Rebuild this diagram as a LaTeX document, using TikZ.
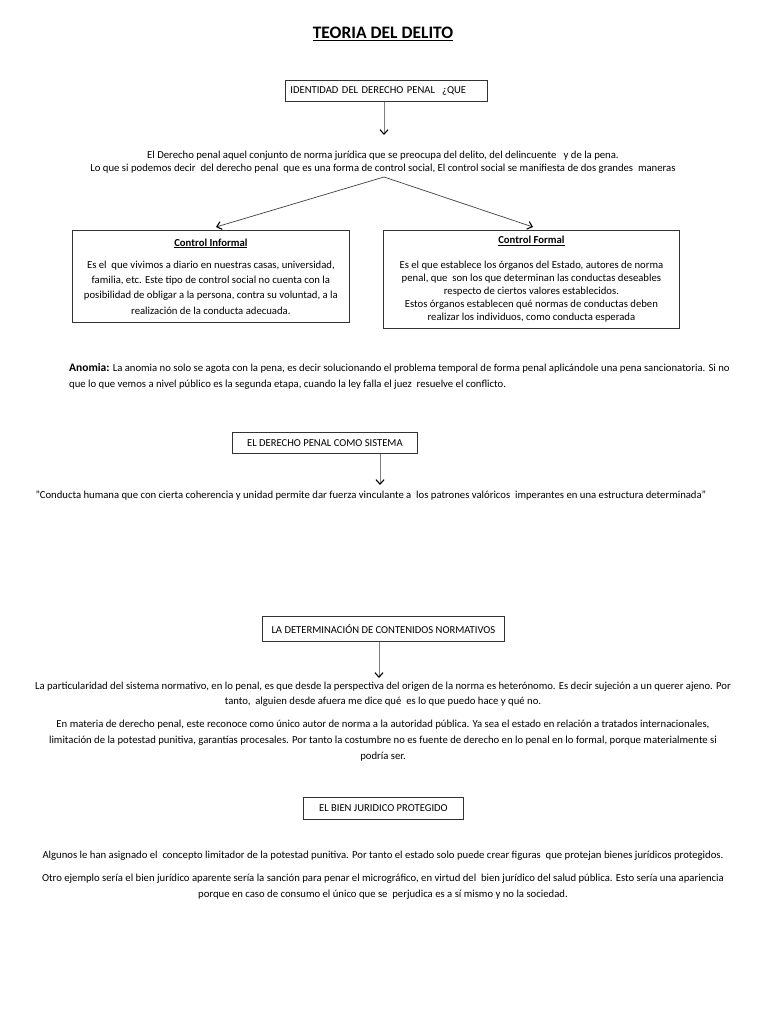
\documentclass[tikz,border=0pt]{standalone}
\usepackage{fontspec}
\setmainfont{Carlito}
\usetikzlibrary{arrows.meta}
\begin{document}
\begin{tikzpicture}[x=1pt,y=-1pt,
  box/.style={draw=black!80, line width=0.8pt, inner ysep=0pt},
  txt/.style={inner sep=0pt, align=center, font=\fontsize{10.7}{13}\selectfont},
  caps/.style={font=\fontsize{10.6}{12}\selectfont},
  arr/.style={draw=black!50, line width=0.8pt, -{Straight Barb[length=4.5pt,width=8pt,line width=1.1pt,color=black]}},
  thin/.style={draw=black!75, line width=0.7pt, -{Straight Barb[length=4.5pt,width=8pt,line width=1.1pt,color=black]}}]
\useasboundingbox (0,0) rectangle (768,1024);
\fill[white] (0,0) rectangle (768,1024);

\node[inner sep=0pt, font=\fontsize{17.5}{20}\selectfont\bfseries] (title) at (383,34) {\underline{TEORIA DEL DELITO}};

\node[box, anchor=north west, text width=192pt, inner xsep=5pt, minimum height=21pt, align=left, caps] (b1) at (285,80) {IDENTIDAD DEL DERECHO PENAL \ ¿QUE};

\node[txt] (p1) at (383,162) {El Derecho penal aquel conjunto de norma jurídica que se preocupa del delito, del delincuente \ \ y de la pena.\\
Lo que si podemos decir \ del derecho penal \ que es una forma de control social, El control social se manifiesta de dos grandes \ maneras};

\coordinate (a1) at (384,135);
\draw[arr] (b1.south -| a1) -- (a1);

\node[box, anchor=north west, minimum width=277pt, minimum height=92pt, inner xsep=0pt, align=center, font=\fontsize{10.7}{15.3}\selectfont] (ci) at (72,230) {\textbf{\underline{Control Informal}}\\[7pt]
Es el \ que vivimos a diario en nuestras casas, universidad,\\
familia, etc. Este tipo de control social no cuenta con la\\
posibilidad de obligar a la persona, contra su voluntad, a la\\
realización de la conducta adecuada.};

\node[box, anchor=north west, minimum width=296pt, minimum height=98pt, inner xsep=0pt, align=center, font=\fontsize{10.7}{13}\selectfont] (cf) at (383,230) {\textbf{\underline{Control Formal}}\\[12pt]
Es el que establece los órganos del Estado, autores de norma\\
penal, que \ son los que determinan las conductas deseables\\
respecto de ciertos valores establecidos.\\
Estos órganos establecen qué normas de conductas deben\\
realizar los individuos, como conducta esperada};

\coordinate (s1) at (384,177);
\draw[thin] (s1) -- ([yshift=3pt]ci.north -| 216,0);
\draw[thin] (s1) -- ([yshift=3pt]cf.north -| 533,0);

\node[inner sep=0pt, anchor=north west, align=left, font=\fontsize{10.7}{16}\selectfont] (an) at (69,363) {{\fontsize{11.5}{16}\selectfont\textbf{Anomia:}} La anomia no solo se agota con la pena, es decir solucionando el problema temporal de forma penal aplicándole una pena sancionatoria. Si no\\
que lo que vemos a nivel público es la segunda etapa, cuando la ley falla el juez \ resuelve el conflicto.};

\node[box, anchor=north west, minimum width=185pt, minimum height=21pt, inner xsep=0pt, caps] (b2) at (232,432) {EL DERECHO PENAL COMO SISTEMA};
\node[txt] (q1) at (371,496) {"Conducta humana que con cierta coherencia y unidad permite dar fuerza vinculante a \ los patrones valóricos \ imperantes en una estructura determinada"};
\coordinate (a2) at (380,485);
\draw[arr] (b2.south -| a2) -- (a2);

\node[box, anchor=north west, minimum width=242pt, minimum height=25pt, inner xsep=0pt, caps] (b3) at (262,616) {LA DETERMINACIÓN DE CONTENIDOS NORMATIVOS};
\node[txt, font=\fontsize{10.7}{15}\selectfont] (p3) at (383,694.5) {La particularidad del sistema normativo, en lo penal, es que desde la perspectiva del origen de la norma es heterónomo. Es decir sujeción a un querer ajeno. Por\\
tanto, \ alguien desde afuera me dice qué \ es lo que puedo hace y qué no.};
\coordinate (a3) at (379,678);
\draw[arr] (b3.south -| a3) -- (a3);

\node[txt, font=\fontsize{10.7}{16}\selectfont] (p4) at (383,741) {En materia de derecho penal, este reconoce como único autor de norma a la autoridad pública. Ya sea el estado en relación a tratados internacionales,\\
limitación de la potestad punitiva, garantías procesales. Por tanto la costumbre no es fuente de derecho en lo penal en lo formal, porque materialmente si\\
podría ser.};

\node[box, anchor=north west, minimum width=160pt, minimum height=22pt, inner xsep=0pt, caps] (b4) at (303,797) {EL BIEN JURIDICO PROTEGIDO};

\node[txt] (p5) at (383,856) {Algunos le han asignado el \ concepto limitador de la potestad punitiva. Por tanto el estado solo puede crear figuras \ que protejan bienes jurídicos protegidos.};
\node[txt, font=\fontsize{10.7}{16}\selectfont] (p6) at (383,887) {Otro ejemplo sería el bien jurídico aparente sería la sanción para penar el micrográfico, en virtud del \ bien jurídico del salud pública. Esto sería una apariencia\\
porque en caso de consumo el único que se \ perjudica es a sí mismo y no la sociedad.};
\end{tikzpicture}
\end{document}
